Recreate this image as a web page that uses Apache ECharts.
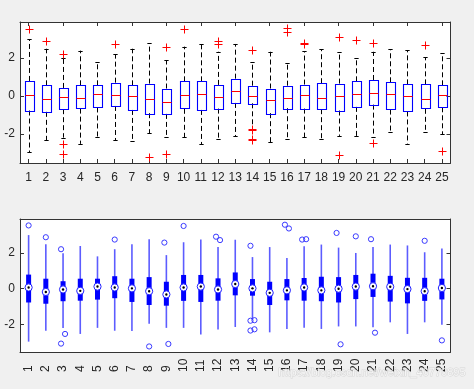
<!DOCTYPE html>
<html>
<head>
<meta charset="utf-8">
<script src="https://cdn.jsdelivr.net/npm/echarts@6/dist/echarts.min.js"></script>
<style>
html,body{margin:0;padding:0;background:#f0f0f0;}
#c{width:474px;height:389px;}
</style>
</head>
<body>
<div id="c"></div>
<script>
// ---- data ----
const categories = ['1','2','3','4','5','6','7','8','9','10','11','12','13','14','15','16','17','18','19','20','21','22','23','24','25'];
const whiskerLow  = [-2.96,-2.35,-2.20,-2.53,-2.19,-2.35,-2.37,-1.96,-2.19,-2.19,-2.56,-2.28,-2.14,-1.72,-2.44,-2.25,-2.18,-2.25,-2.11,-2.11,-2.15,-1.88,-2.53,-1.88,-2.02];
const quart1      = [-0.77,-0.84,-0.70,-0.67,-0.61,-0.53,-0.74,-0.91,-0.95,-0.68,-0.74,-0.67,-0.37,-0.39,-0.91,-0.65,-0.67,-0.70,-0.77,-0.58,-0.46,-0.72,-0.82,-0.68,-0.60];
const medians     = [0.07,-0.18,-0.04,-0.12,0.12,0.07,0.02,-0.14,-0.32,0.07,0.12,-0.04,0.26,0.02,-0.23,-0.09,0.07,-0.09,0.00,0.12,0.14,0.11,-0.02,-0.14,0.04];
const quart3      = [0.79,0.56,0.42,0.56,0.56,0.70,0.56,0.65,0.39,0.77,0.77,0.58,0.91,0.54,0.39,0.54,0.60,0.67,0.65,0.77,0.84,0.72,0.61,0.61,0.56];
const whiskerHigh = [3.00,2.49,1.98,2.39,1.81,2.21,2.49,2.77,1.88,2.60,2.75,2.33,2.74,1.77,2.33,1.72,2.37,2.47,2.30,2.00,2.33,2.47,2.42,2.04,2.25];
const outlierCat  = ['1','2','3','3','3','6','8','9','9','10','12','12','14','14','14','14','14','16','16','17','17','19','19','20','21','21','24','25'];
const outlierVal  = [3.54,2.88,2.21,-2.53,-3.07,2.75,-3.23,2.58,-3.09,3.51,2.91,2.72,2.40,-1.76,-1.79,-2.27,-2.34,3.58,3.37,2.75,2.77,3.12,-3.11,2.93,2.77,-2.46,2.68,-2.89];
const yTicks = [-2, 0, 2];
const yMin = -3.54, yMax = 3.9;

// ---- build series data ----
const boxData = categories.map((c, i) => [i, whiskerLow[i], quart1[i], medians[i], quart3[i], whiskerHigh[i]]);
const counts = {};
const outData = outlierCat.map((c, k) => {
  const idx = categories.indexOf(c);
  counts[idx] = (counts[idx] || 0) + 1;
  return [idx, outlierVal[k], counts[idx] - 1];
});
outData.forEach(d => { d.push(counts[d[0]]); });

const AX = '#333333';
const fontFamily = 'Liberation Sans, Arial, sans-serif';

function px(v){ return Math.round(v) + 0.5; }

function renderTop(params, api) {
  const i = api.value(0);
  const lo = api.coord([i, api.value(1)]);
  const q1 = api.coord([i, api.value(2)]);
  const md = api.coord([i, api.value(3)]);
  const q3 = api.coord([i, api.value(4)]);
  const hi = api.coord([i, api.value(5)]);
  const band = api.size([1, 0])[0];
  const bw = band * 0.5, cw = band * 0.25;
  const x = px(lo[0]);
  const dash = {stroke: '#000', lineWidth: 1, lineDash: [5, 3]};
  const solid = {stroke: '#000', lineWidth: 1};
  return {type: 'group', children: [
    {type: 'line', shape: {x1: x, y1: q3[1], x2: x, y2: hi[1]}, style: dash},
    {type: 'line', shape: {x1: x, y1: q1[1], x2: x, y2: lo[1]}, style: dash},
    {type: 'line', shape: {x1: x - cw/2, y1: px(hi[1]), x2: x + cw/2, y2: px(hi[1])}, style: solid},
    {type: 'line', shape: {x1: x - cw/2, y1: px(lo[1]), x2: x + cw/2, y2: px(lo[1])}, style: solid},
    {type: 'rect', shape: {x: Math.round(x - bw/2) + 0.5, y: px(q3[1]), width: Math.round(bw), height: Math.round(q1[1] - q3[1])},
      style: {fill: 'none', stroke: '#0000ff', lineWidth: 1.1}},
    {type: 'line', shape: {x1: Math.round(x - bw/2) + 0.5, y1: px(md[1]), x2: Math.round(x - bw/2) + 0.5 + Math.round(bw), y2: px(md[1])},
      style: {stroke: '#ff0000', lineWidth: 1}}
  ]};
}

function renderTopOut(params, api) {
  const p = api.coord([api.value(0), api.value(1)]);
  const x = px(p[0]), y = px(p[1]), h = 4;
  const st = {stroke: '#ff0000', lineWidth: 1};
  return {type: 'group', children: [
    {type: 'line', shape: {x1: x - h, y1: y, x2: x + h, y2: y}, style: st},
    {type: 'line', shape: {x1: x, y1: y - h, x2: x, y2: y + h}, style: st}
  ]};
}

function renderBottom(params, api) {
  const i = api.value(0);
  const lo = api.coord([i, api.value(1)]);
  const q1 = api.coord([i, api.value(2)]);
  const md = api.coord([i, api.value(3)]);
  const q3 = api.coord([i, api.value(4)]);
  const hi = api.coord([i, api.value(5)]);
  const x = lo[0];
  return {type: 'group', children: [
    {type: 'line', shape: {x1: x, y1: lo[1], x2: x, y2: hi[1]}, style: {stroke: '#5c5cff', lineWidth: 1.6}},
    {type: 'line', shape: {x1: x, y1: q1[1], x2: x, y2: q3[1]}, style: {stroke: '#0000ff', lineWidth: 5}},
    {type: 'circle', shape: {cx: x, cy: md[1], r: 3.6}, style: {fill: '#ffffff', stroke: '#2020ff', lineWidth: 1}},
    {type: 'circle', shape: {cx: x, cy: md[1], r: 1.2}, style: {fill: '#000000'}}
  ]};
}

function renderBottomOut(params, api) {
  const p = api.coord([api.value(0), api.value(1)]);
  const slot = api.value(2), n = api.value(3);
  const off = n > 1 ? (slot % 2 === 0 ? -2 : 2) : 0;
  return {type: 'circle', shape: {cx: p[0] + off, cy: p[1], r: 2.6},
    style: {fill: 'none', stroke: '#3a3aff', lineWidth: 1}};
}

const chart = echarts.init(document.getElementById('c'), null, {renderer: 'canvas'});

function yAxisCfg(gridIndex, pos, showLabel) {
  return {
    type: 'value', gridIndex: gridIndex, position: pos, min: yMin, max: yMax,
    splitLine: {show: false},
    axisLine: {show: true, onZero: false, lineStyle: {color: AX, width: 1}},
    axisTick: {show: true, inside: true, length: 4, customValues: yTicks, lineStyle: {color: AX}},
    axisLabel: {show: showLabel, customValues: yTicks, margin: 5, color: '#262626', fontSize: 12, fontFamily: fontFamily,
      formatter: v => String(v)}
  };
}

const option = {
  backgroundColor: '#f0f0f0',
  animation: false,
  grid: [
    {left: 20, top: 22, right: 23.5, height: 141, show: true, backgroundColor: '#ffffff', borderWidth: 0, containLabel: false},
    {left: 20, top: 219, right: 23.5, height: 133, show: true, backgroundColor: '#ffffff', borderWidth: 0, containLabel: false}
  ],
  xAxis: [
    {type: 'category', gridIndex: 0, position: 'bottom', data: categories,
      axisLine: {show: true, onZero: false, lineStyle: {color: AX}},
      axisTick: {show: true, inside: true, length: 4, alignWithLabel: true, lineStyle: {color: AX}},
      axisLabel: {show: true, interval: 0, margin: 9, color: '#262626', fontSize: 12, fontFamily: fontFamily}},
    {type: 'category', gridIndex: 0, position: 'top', data: categories,
      axisLine: {show: true, onZero: false, lineStyle: {color: AX}},
      axisTick: {show: true, inside: true, length: 4, alignWithLabel: true, lineStyle: {color: AX}},
      axisLabel: {show: false}},
    {type: 'category', gridIndex: 1, position: 'bottom', data: categories,
      axisLine: {show: true, onZero: false, lineStyle: {color: AX}},
      axisTick: {show: false},
      axisLabel: {show: true, interval: 0, rotate: 90, align: 'left', verticalAlign: 'middle', margin: 20,
        color: '#262626', fontSize: 12, fontFamily: fontFamily}},
    {type: 'category', gridIndex: 1, position: 'top', data: categories,
      axisLine: {show: true, onZero: false, lineStyle: {color: AX}},
      axisTick: {show: false}, axisLabel: {show: false}}
  ],
  yAxis: [
    yAxisCfg(0, 'left', true),
    yAxisCfg(0, 'right', false),
    yAxisCfg(1, 'left', true),
    yAxisCfg(1, 'right', false)
  ],
  series: [
    {type: 'custom', xAxisIndex: 0, yAxisIndex: 0, data: boxData, renderItem: renderTop,
      encode: {x: 0, y: [1, 2, 3, 4, 5]}, clip: true, silent: true},
    {type: 'custom', xAxisIndex: 0, yAxisIndex: 0, data: outData, renderItem: renderTopOut,
      encode: {x: 0, y: 1}, clip: true, silent: true},
    {type: 'custom', xAxisIndex: 2, yAxisIndex: 2, data: boxData, renderItem: renderBottom,
      encode: {x: 0, y: [1, 2, 3, 4, 5]}, clip: true, silent: true},
    {type: 'custom', xAxisIndex: 2, yAxisIndex: 2, data: outData, renderItem: renderBottomOut,
      encode: {x: 0, y: 1}, clip: true, silent: true}
  ],
  graphic: [
    {type: 'text', right: 8, top: 367, z: 100, silent: true,
      style: {text: 'https://blog.csdn.net/weixin_40770895', fill: 'rgba(255,255,255,0.75)',
        stroke: 'rgba(170,170,170,0.35)', lineWidth: 1, font: '11px Liberation Sans, Arial, sans-serif'}}
  ]
};
chart.setOption(option);
</script>
</body>
</html>
